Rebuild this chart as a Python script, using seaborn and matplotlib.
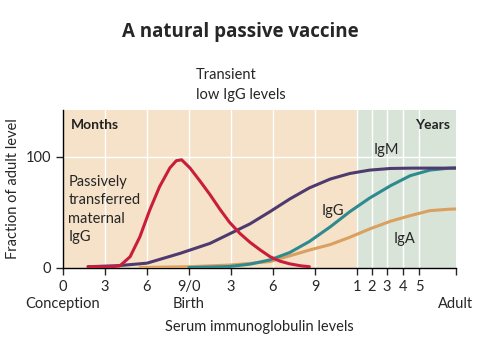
import matplotlib
matplotlib.use("Agg")
import matplotlib.pyplot as plt
import seaborn as sns
import pandas as pd

# x is months since conception; the years part is mapped onto the same axis
maternal_x = [1.8, 3.5, 4.07, 4.8, 5.5, 6.2, 6.9, 7.64, 8.1, 8.48, 9.07, 9.8, 10.5,
              11.2, 11.9, 12.64, 13.36, 14.1, 14.8, 15.5, 16.2, 17.0, 17.6]
maternal_y = [1, 1, 1.8, 10, 28, 52, 73, 90, 96.5, 97.3, 90, 78, 66,
              53, 41, 31, 23, 16, 10, 6, 3.6, 1.8, 1]

igm_x = [1.8, 4.0, 6.0, 8.36, 10.5, 11.9, 13.36, 14.8, 16.2, 17.6, 19.1, 20.5,
         21.9, 23.4, 25.0, 28.07]
igm_y = [1, 2, 4.2, 13, 22, 30.6, 39.6, 50.7, 62, 72, 80, 85,
         88, 89.5, 89.8, 89.8]

igg_x = [9.0, 10.5, 11.9, 13.36, 14.8, 16.2, 17.6, 19.1, 20.5, 21.9, 23.4, 24.8,
         26.2, 27.6, 28.07]
igg_y = [0.3, 0.7, 1.2, 3.3, 7.2, 13.8, 23.7, 37, 50.7, 62.8, 74, 83,
         88, 89.8, 90]

iga_x = [5.5, 9.0, 11.9, 13.36, 14.8, 16.2, 17.6, 19.1, 20.5, 21.9, 23.4, 24.8,
         26.2, 27.6, 28.07]
iga_y = [0.3, 1, 2.5, 4, 5.7, 10.8, 16, 21, 27.6, 35, 42, 47,
         51.5, 52.8, 53]

tick_pos = [0, 3, 6, 9, 12, 15, 18, 21, 22.07, 23.14, 24.29, 25.43, 28.07]
tick_labels = ["0\nConception", "3", "6", "9/0\nBirth", "3", "6", "9",
               "1", "2", "3", "4", "5", "\nAdult"]
years_start = 21
x_end = 28.07

colors = {"maternal": "#c81e3c", "IgM": "#4e3a6e", "IgG": "#2e8a8e", "IgA": "#d9a060"}

df = pd.concat([
    pd.DataFrame({"x": maternal_x, "y": maternal_y, "s": "maternal"}),
    pd.DataFrame({"x": igm_x, "y": igm_y, "s": "IgM"}),
    pd.DataFrame({"x": igg_x, "y": igg_y, "s": "IgG"}),
    pd.DataFrame({"x": iga_x, "y": iga_y, "s": "IgA"}),
])

sns.set_style("white")
plt.rcParams["font.family"] = ["Lato", "DejaVu Sans"]

fig = plt.figure(figsize=(4.8, 3.6), dpi=100)
ax = fig.add_axes([0.131, 0.256, 0.819, 0.438])

# month / year background bands and white grid
ax.axvspan(0, years_start, color="#f5e2c8", zorder=0)
ax.axvspan(years_start, x_end, color="#d9e4d8", zorder=0)
for t in tick_pos[1:-1]:
    ax.axvline(t, color="white", lw=1, zorder=1)
ax.axhline(100, color="white", lw=1, zorder=1)

sns.lineplot(data=df, x="x", y="y", hue="s", palette=colors, lw=2.2, sort=False,
             hue_order=["IgA", "IgG", "IgM", "maternal"], legend=False, ax=ax, zorder=3)

ax.set_xlim(0, x_end)
ax.set_ylim(0, 142)
ax.set_yticks([0, 100])
ax.set_xticks(tick_pos)
ax.set_xticklabels(tick_labels, fontsize=10.5, linespacing=1.35)
ax.tick_params(axis="y", labelsize=10.5, length=5, width=1, direction="out", left=True)
ax.tick_params(axis="x", length=5, width=1, direction="out", bottom=True)
for sp in ["top", "right"]:
    ax.spines[sp].set_visible(False)
for sp in ["left", "bottom"]:
    ax.spines[sp].set_color("black")
    ax.spines[sp].set_linewidth(1)
ax.set_xlabel("Serum immunoglobulin levels", fontsize=10.5, labelpad=6)
ax.set_ylabel("Fraction of adult level", fontsize=10.5, labelpad=4)

ax.text(0.6, 134, "Months", fontsize=10, fontweight="bold", va="top", color="#222222")
ax.text(x_end - 0.4, 134, "Years", fontsize=10, fontweight="bold", va="top", ha="right", color="#222222")
ax.text(0.4, 84, "Passively\ntransferred\nmaternal\nIgG", fontsize=10.5, va="top", linespacing=1.42)
ax.text(23.1, 106, "IgM", fontsize=10.5, ha="center", va="center")
ax.text(19.3, 51, "IgG", fontsize=10.5, ha="center", va="center")
ax.text(24.4, 26, "IgA", fontsize=10.5, ha="center", va="center")

fig.text(196 / 480, 1 - 75 / 360, "Transient", fontsize=10.5, va="center")
fig.text(196 / 480, 1 - 95 / 360, "low IgG levels", fontsize=10.5, va="center")
fig.text(240 / 480, 1 - 32 / 360, "A natural passive vaccine", fontsize=13.5,
         fontweight="bold", ha="center", va="center", family=["Open Sans", "DejaVu Sans"])

fig.savefig("out.png", dpi=100, facecolor="white")
